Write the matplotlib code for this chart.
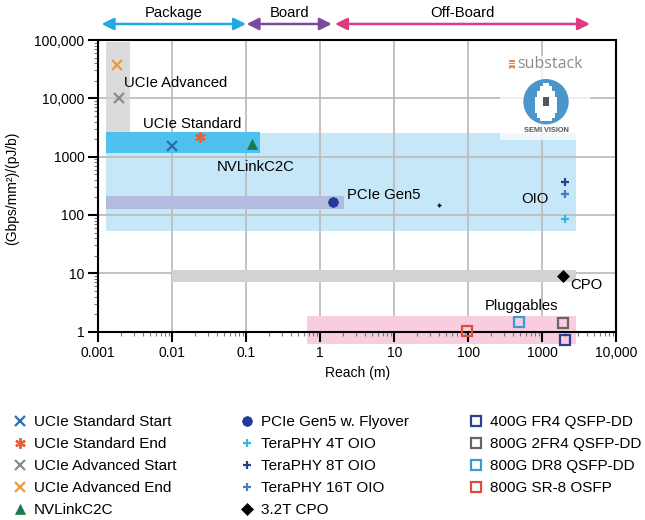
import matplotlib
matplotlib.use('Agg')
import matplotlib.pyplot as plt
from matplotlib.patches import Rectangle, Circle, Polygon
from matplotlib.ticker import NullFormatter
import matplotlib.transforms as mtransforms
import numpy as np

plt.rcParams['font.family'] = ['Liberation Sans', 'DejaVu Sans']

# axis ticks
x_ticks = [0.001, 0.01, 0.1, 1, 10, 100, 1000, 10000]
x_tick_labels = ['0.001', '0.01', '0.1', '1', '10', '100', '1000', '10,000']
y_ticks = [1, 10, 100, 1000, 10000, 100000]
y_tick_labels = ['1', '10', '100', '1000', '10,000', '100,000']

# reach regions drawn as arrows above the plot (m)
region_names = ['Package', 'Board', 'Off-Board']
region_start = [0.00111, 0.101, 1.58]
region_end = [0.099, 1.43, 4400]
region_colors = ['#22A9E1', '#7B4A9E', '#DE3A82']

# shaded technology bands: reach range, density range
band_names = ['Optical I/O', 'UCIe Advanced', 'UCIe Standard', 'PCIe', 'CPO', 'Pluggables']
band_x0 = [0.00127, 0.00127, 0.00127, 0.00127, 0.01, 0.66]
band_x1 = [2830, 0.0027, 0.152, 2.1, 2850, 2850]
band_y0 = [54, 2060, 1140, 126, 7.2, 0.61]
band_y1 = [2500, 91000, 2670, 213, 11.2, 1.87]
band_colors = ['#C6E7F8', '#D0D0D0', '#4FC1EE', '#B3BCE0', '#D3D3D3', '#F8CDE0']
band_alpha = [1.0, 0.75, 1.0, 1.0, 1.0, 1.0]

# data points
names = ['UCIe Standard Start', 'UCIe Standard End', 'UCIe Advanced Start',
         'UCIe Advanced End', 'NVLinkC2C', 'PCIe Gen5 w. Flyover',
         'TeraPHY 4T OIO', 'TeraPHY 8T OIO', 'TeraPHY 16T OIO', '3.2T CPO',
         '400G FR4 QSFP-DD', '800G 2FR4 QSFP-DD', '800G DR8 QSFP-DD', '800G SR-8 OSFP']
reach = [0.01, 0.0236, 0.0019, 0.0018, 0.118, 1.48,
         2000, 2000, 2000, 1900,
         2000, 1900, 490, 97]
density = [1540, 2190, 10200, 37000, 1625, 168,
           87, 371, 226, 8.9,
           0.71, 1.38, 1.44, 1.03]
markers = ['x', (6, 2, 0), 'x', 'x', '^', 'o',
           '+', '+', '+', 'D',
           's', 's', 's', 's']
colors = ['#2A6DB4', '#E8623A', '#8A8A8A', '#EE9A3A', '#1E7A4A', '#233A99',
          '#34B6DE', '#2C3E8A', '#3F7FC0', '#000000',
          '#2E3F8F', '#666666', '#3A9CCF', '#DF4A3A']
msizes = [6.5, 7.5, 6.5, 6.5, 7, 7, 5.5, 5.5, 5.5, 6, 7, 7, 7, 7]

# stray point on the original chart
stray_x = [40]
stray_y = [148]

# band labels
label_text = ['UCIe Advanced', 'UCIe Standard', 'NVLinkC2C', 'PCIe Gen5', 'OIO', 'CPO', 'Pluggables']
label_x = [0.00224, 0.00406, 0.0398, 2.33, 527, 2350, 168]
label_y = [18100, 3580, 671, 219, 185, 6.3, 2.77]

fig = plt.figure(figsize=(6.45, 5.2), dpi=100)
ax = fig.add_axes([98.3 / 645, 1 - 349.2 / 520, 518 / 645, 309.2 / 520])
ax.set_xscale('log')
ax.set_yscale('log')
ax.set_xlim(1e-3, 1e4)
ax.set_ylim(0.5, 1e5)

for i in range(len(band_names)):
    z = 0.5 if i == 0 else 1.0
    ax.fill_between([band_x0[i], band_x1[i]], band_y0[i], band_y1[i],
                    color=band_colors[i], alpha=band_alpha[i], lw=0, zorder=z)

# grid lines only inside the 1..100,000 frame
ax.vlines(x_ticks[1:-1], 1, 1e5, color='#BDBDBD', lw=1.3, zorder=0.6)
ax.hlines(y_ticks[1:-1], 1e-3, 1e4, color='#BDBDBD', lw=1.3, zorder=0.6)

handles = []
for i in range(len(names)):
    face = 'none' if markers[i] == 's' else colors[i]
    mew = 1.6
    if markers[i] in ('o', '^', 'D'):
        mew = 0.5
    h, = ax.plot([reach[i]], [density[i]], linestyle='none', marker=markers[i],
                 ms=msizes[i], color=colors[i], mfc=face, mec=colors[i], mew=mew,
                 label=names[i], zorder=3)
    handles.append(h)
ax.plot(stray_x, stray_y, linestyle='none', marker='+', ms=3, color='black', mew=1, zorder=3)

for t, x, y in zip(label_text, label_x, label_y):
    ax.text(x, y, t, fontsize=10.7, ha='left', va='center', zorder=4)

# spines
ax.spines['bottom'].set_position(('data', 1))
ax.spines['left'].set_bounds(1, 1e5)
ax.spines['right'].set_bounds(1, 1e5)
for s in ax.spines.values():
    s.set_linewidth(1.5)

ax.set_xticks(x_ticks, x_tick_labels)
ax.set_yticks(y_ticks, y_tick_labels)
minor_x = [m * 10.0 ** k for k in range(-3, 4) for m in range(2, 10)]
minor_y = [m * 10.0 ** k for k in range(0, 5) for m in range(2, 10)]
ax.set_xticks(minor_x, minor=True)
ax.set_yticks(minor_y, minor=True)
ax.xaxis.set_minor_formatter(NullFormatter())
ax.yaxis.set_minor_formatter(NullFormatter())
ax.tick_params(which='major', direction='out', length=7, width=1.5, labelsize=10, pad=3)
ax.tick_params(which='minor', direction='out', length=3, width=0.8, color='#777777')

ax.set_xlabel('Reach (m)', fontsize=10)
ax.set_ylabel('(Gbps/mm²)/(pJ/b)', fontsize=10)
ax.xaxis.set_label_coords(0.5, -0.054)
ax.yaxis.set_label_coords(-0.153, 0.52)

# region arrows above the axes
trans = mtransforms.blended_transform_factory(ax.transData, ax.transAxes)
for name, x0, x1, c in zip(region_names, region_start, region_end, region_colors):
    ax.annotate('', xy=(x1, 1.0518), xytext=(x0, 1.0518), xycoords=trans, textcoords=trans,
                arrowprops=dict(arrowstyle='<|-|>', color=c, lw=1.8, mutation_scale=18,
                                shrinkA=0, shrinkB=0), annotation_clip=False)
    ax.text(np.sqrt(x0 * x1), 1.0883, name, transform=trans, ha='center', va='center',
            fontsize=10.7, clip_on=False)

# legend in three columns
legend_left = [12.4, 239.4, 468.4]
groups = [range(0, 5), range(5, 10), range(10, 14)]
for left, g in zip(legend_left, groups):
    leg = fig.legend([handles[i] for i in g], [names[i] for i in g], loc='upper left',
                     bbox_to_anchor=(left / 645, 1 - 415 / 520), frameon=False,
                     fontsize=11, handlelength=1.0, handletextpad=0.42, labelspacing=0.53,
                     borderpad=0, borderaxespad=0, numpoints=1)

# watermark logo box
lax = fig.add_axes([500 / 645, 1 - 140 / 520, 90 / 645, 84 / 520])
lax.set_xlim(0, 90)
lax.set_ylim(84, 0)
lax.set_axis_off()
lax.add_patch(Rectangle((0, 0), 90, 84, color='white', alpha=0.75, lw=0))
lax.add_patch(Rectangle((9, 4.3), 6, 1.5, color='#F0833A', lw=0))
lax.add_patch(Rectangle((9, 6.8), 6, 1.5, color='#F0833A', lw=0))
lax.add_patch(Polygon([(9, 9.3), (15, 9.3), (15, 13), (12, 11.3), (9, 13)], color='#F0833A', lw=0))
lax.text(17, 8, 'substack', fontsize=11.5, color='#8C8C8C', ha='left', va='center',
         family=['Open Sans', 'DejaVu Sans'])
cx, cy = 46, 45.7
lax.add_patch(Circle((cx, cy), 22.7, color='#4A96CC', lw=0))
steps = [(-19, 3), (-16, 6), (-11, 9), (-5, 11), (5, 11), (11, 9), (16, 6), (19, 3)]
right_side = []
for j in range(len(steps) - 1):
    right_side += [(cx + steps[j][1], cy + steps[j][0]), (cx + steps[j][1], cy + steps[j + 1][0])]
right_side += [(cx + steps[-1][1], cy + steps[-1][0])]
left_side = [(2 * cx - px, py) for px, py in right_side[::-1]]
lax.add_patch(Polygon(right_side + left_side, color='white', lw=0))
lax.add_patch(Rectangle((cx - 3, cy - 4.5), 6, 9, color='#555555', lw=0))
lax.text(cx, 74.7, 'SEMI VISION', fontsize=5.3, color='#555555', ha='center', va='center',
         weight='bold')

fig.savefig('out.png', dpi=100)
